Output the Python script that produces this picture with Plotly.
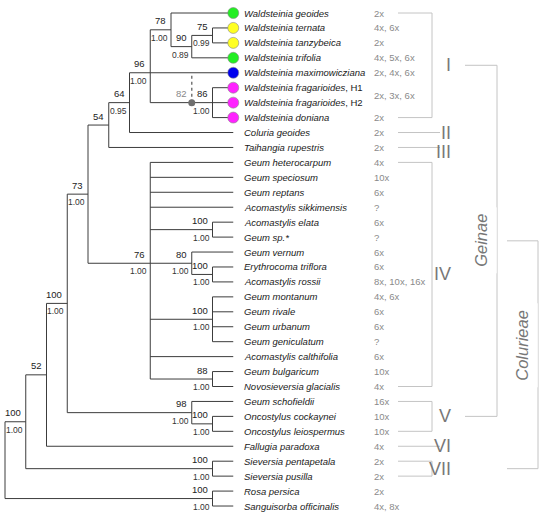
import plotly.graph_objects as go

# leaves, top to bottom
taxa = [
    "Waldsteinia geoides", "Waldsteinia ternata", "Waldsteinia tanzybeica", "Waldsteinia trifolia",
    "Waldsteinia maximowicziana", "Waldsteinia fragarioides, H1", "Waldsteinia fragarioides, H2",
    "Waldsteinia doniana", "Coluria geoides", "Taihangia rupestris",
    "Geum heterocarpum", "Geum speciosum", "Geum reptans", "Acomastylis sikkimensis",
    "Acomastylis elata", "Geum sp.*", "Geum vernum", "Erythrocoma triflora", "Acomastylis rossii",
    "Geum montanum", "Geum rivale", "Geum urbanum", "Geum geniculatum", "Acomastylis calthifolia",
    "Geum bulgaricum", "Novosieversia glacialis", "Geum schofieldii", "Oncostylus cockaynei",
    "Oncostylus leiospermus", "Fallugia paradoxa", "Sieversia pentapetala", "Sieversia pusilla",
    "Rosa persica", "Sanguisorba officinalis",
]
taxon_parent = [
    "n78", "n75", "n75", "n90", "n96", "n86", "n86", "n86", "n64", "n54",
    "n76", "n76", "n76", "n76", "elata", "elata", "n80", "erythro", "erythro",
    "montanum", "montanum", "montanum", "montanum", "n76", "n88", "n88",
    "n98", "oncost", "oncost", "n52", "sievers", "sievers", "outgroup", "outgroup",
]
# None = shares the ploidy of the row above
ploidy = [
    "2x", "4x, 6x", "2x", "4x, 5x, 6x", "2x, 4x, 6x", "2x, 3x, 6x", None, "2x", "2x", "2x",
    "4x", "10x", "6x", "?", "6x", "?", "6x", "6x", "8x, 10x, 16x",
    "4x, 6x", "6x", "6x", "?", "6x", "10x", "4x", "16x", "10x", "10x", "4x",
    "2x", "2x", "2x", "4x, 8x",
]
dot_colour = [
    "#22ee22", "#ffff22", "#ffff22", "#22ee22", "#0000ee", "#ff22ff", "#ff22ff", "#ff22ff",
] + [None] * 26

# internal nodes
node_id = ["root", "b100", "n52", "d100", "n73", "n54", "n64", "n96", "n78", "n90", "n75",
           "n86", "n76", "elata", "n80", "erythro", "montanum", "n88", "n98", "oncost",
           "sievers", "outgroup"]
node_parent = [None, "root", "b100", "n52", "d100", "n73", "n54", "n64", "n96", "n78", "n90",
               "n96", "n73", "n76", "n76", "n80", "n76", "n76", "d100", "n98",
               "b100", "root"]
node_depth = [0, 1, 2, 3, 4, 5, 6, 7, 8, 9, 10, 10, 7, 10, 9, 10, 10, 10, 9, 10, 10, 10]
node_bs = ["", "100", "52", "100", "73", "54", "64", "96", "78", "90", "75",
           "86", "76", "100", "80", "100", "100", "88", "98", "100", "100", "100"]
node_pp = ["", "1.00", "", "1.00", "1.00", "", "0.95", "1.00", "1.00", "0.89", "0.99",
           "1.00", "1.00", "1.00", "1.00", "1.00", "1.00", "1.00", "1.00", "1.00", "1.00", "1.00"]
# child that the stem joins when it is not centred
node_anchor = {"n96": "Waldsteinia maximowicziana", "n86": "Waldsteinia fragarioides, H2", "n76": "n80"}

# alternative placement (dotted)
alt_clade = "n86"
alt_partner = "Waldsteinia maximowicziana"
alt_depth = 9
alt_bs = "82"

clades = ["I", "II", "III", "IV", "V", "VI", "VII"]
clade_first = [0, 8, 9, 10, 26, 29, 30]
clade_last = [7, 8, 9, 25, 28, 29, 31]
clade_nudge = [0, 0, -5, 0, 0, 0, 0]   # px, keeps II and III apart

TIP = max(node_depth) + 1
FONT = "Liberation Sans, Arial, sans-serif"

# --- tree layout ---
children = {n: [] for n in node_id}
for i, p in enumerate(taxon_parent):
    children[p].append(taxa[i])
for n, p in zip(node_id, node_parent):
    if p:
        children[p].append(n)
depth = dict(zip(node_id, node_depth))
ypos = {t: i for i, t in enumerate(taxa)}


def place(n):
    ys = [place(c) if c in children else ypos[c] for c in children[n]]
    ypos[n] = ypos[node_anchor[n]] if n in node_anchor else (min(ys) + max(ys)) / 2
    return ypos[n]


place("root")

lx, ly = [], []
for n, p in zip(node_id, node_parent):
    ys = [ypos[c] for c in children[n]]
    lx += [depth[n], depth[n], None]
    ly += [min(ys), max(ys), None]
    if p:
        lx += [depth[p], depth[n], None]
        ly += [ypos[n], ypos[n], None]
for t, p in zip(taxa, taxon_parent):
    lx += [depth[p], TIP, None]
    ly += [ypos[t], ypos[t], None]

fig = go.Figure()
fig.add_trace(go.Scatter(x=lx, y=ly, mode="lines", line=dict(color="#3c3c3c", width=1),
                         hoverinfo="skip"))
fig.add_trace(go.Scatter(x=[alt_depth, alt_depth], y=[ypos[alt_clade], ypos[alt_partner]],
                         mode="lines", line=dict(color="#777", width=1.5, dash="dot"),
                         hoverinfo="skip"))
fig.add_trace(go.Scatter(x=[alt_depth], y=[ypos[alt_clade]], mode="markers",
                         marker=dict(color="#6e6e6e", size=7), hoverinfo="skip"))
dx = [TIP for c in dot_colour if c]
dy = [ypos[t] for t, c in zip(taxa, dot_colour) if c]
fig.add_trace(go.Scatter(x=dx, y=dy, mode="markers",
                         marker=dict(color=[c for c in dot_colour if c], size=11,
                                     line=dict(color="#888", width=0.6)),
                         hoverinfo="skip"))

ann = []
for t in taxa:
    name, _, tag = t.partition(", ")
    txt = f"<i>{name}</i>" + (f", {tag}" if tag else "")
    ann.append(dict(x=TIP, y=ypos[t], text=txt, xanchor="left", xshift=9, showarrow=False,
                    font=dict(size=9.5, color="#1a1a1a", family=FONT)))
for i, pl in enumerate(ploidy):
    if pl is None:
        continue
    y = i + 0.5 if i + 1 < len(ploidy) and ploidy[i + 1] is None else i
    ann.append(dict(x=372 / 550, xref="paper", y=y, text=pl, xanchor="left", showarrow=False,
                    font=dict(size=9.5, color="#8a8a8a", family=FONT)))
for n, b, pp in zip(node_id, node_bs, node_pp):
    if b:
        ann.append(dict(x=depth[n], y=ypos[n], text=b, xanchor="right", xshift=-3, yshift=9,
                        showarrow=False, font=dict(size=9.5, color="#222", family=FONT)))
    if pp:
        ann.append(dict(x=depth[n], y=ypos[n], text=pp, xanchor="right", xshift=-1, yshift=-8,
                        showarrow=False, font=dict(size=8.5, color="#333", family=FONT)))
ann.append(dict(x=alt_depth, y=ypos[alt_clade], text=alt_bs, xanchor="right", xshift=-3, yshift=9,
                showarrow=False, font=dict(size=9.5, color="#888", family=FONT)))

# --- clade brackets ---
GREY = "#c4c4c4"
shapes = []


def seg(x0, y0, x1, y1):
    shapes.append(dict(type="line", xref="paper", yref="y", x0=x0 / 550, x1=x1 / 550,
                       y0=y0, y1=y1, line=dict(color=GREY, width=1)))


clade_y = []
for name, a, b, nudge in zip(clades, clade_first, clade_last, clade_nudge):
    if a == b:
        seg(398, a, 440, a)
    else:
        seg(398, a, 432, a)
        seg(432, a, 432, b)
        seg(398, b, 432, b)
    clade_y.append((a + b) / 2)
    ann.append(dict(x=453 / 550, xref="paper", y=(a + b) / 2, yshift=nudge, text=name,
                    showarrow=False, font=dict(size=18, color="#777", family=FONT)))

yI, yV, yVII = clade_y[0], clade_y[4], clade_y[6]
seg(465, yI, 497, yI)
seg(465, yV, 497, yV)
seg(497, yI, 497, yV)
ygein = (yI + yV) / 2
seg(507, ygein, 538, ygein)
seg(538, ygein, 538, yVII)
seg(507, yVII, 538, yVII)
ann.append(dict(x=497 / 550, xref="paper", y=ygein, text="<i>Geinae</i>", textangle=-90,
                showarrow=False, bgcolor="white", borderpad=6,
                font=dict(size=16.5, color="#777", family=FONT)))
ann.append(dict(x=538 / 550, xref="paper", y=(ygein + yVII) / 2 - 0.6, text="<i>Colurieae</i>",
                textangle=-90, showarrow=False, bgcolor="white", borderpad=6,
                font=dict(size=16.5, color="#777", family=FONT)))

fig.update_layout(
    width=550, height=517, margin=dict(l=0, r=0, t=0, b=0),
    plot_bgcolor="white", paper_bgcolor="white", showlegend=False,
    xaxis=dict(range=[-5 / 20.75, 545 / 20.75], visible=False),
    yaxis=dict(range=[504 / 14.94, -13 / 14.94], visible=False),
    annotations=ann, shapes=shapes,
)
# page has a default body margin; drop it so the figure sits at the corner
fig.write_html("out.html", config={"displayModeBar": False},
               post_script="document.body.style.margin='0';")
